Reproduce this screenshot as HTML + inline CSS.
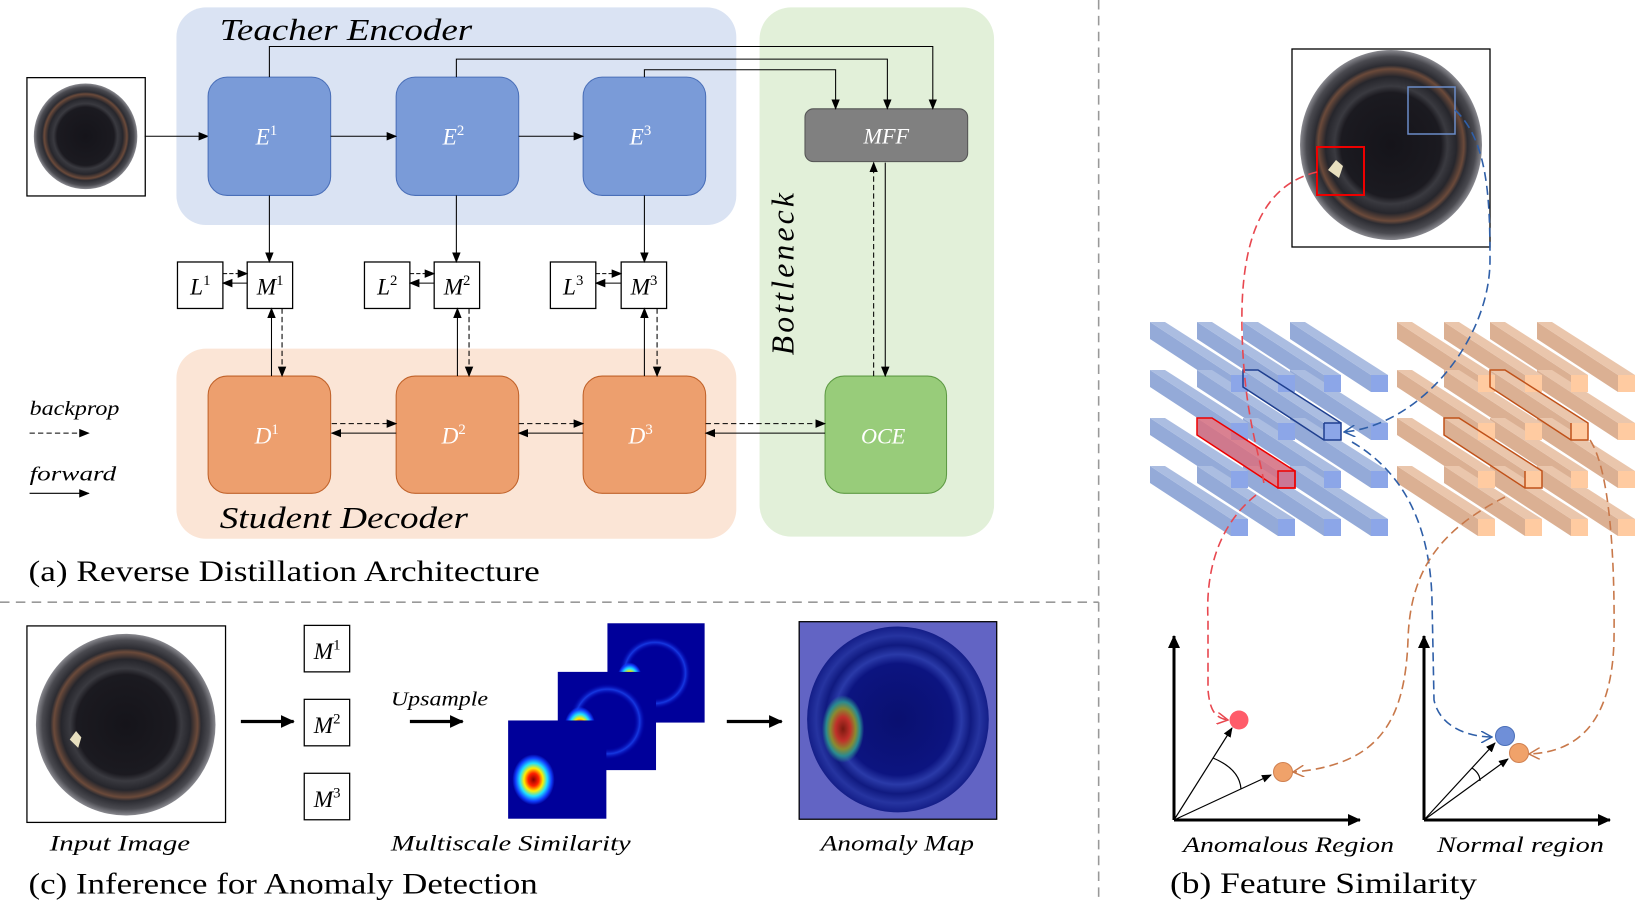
<!DOCTYPE html>
<html><head><meta charset="utf-8"><style>
html,body{margin:0;padding:0;background:#fff;width:1648px;height:901px;overflow:hidden}
svg{display:block}
text{font-family:"Liberation Serif",serif}
.it{font-style:italic}
.n{font-style:normal}
</style></head><body>
<svg width="1648" height="901" viewBox="0 0 1648 901" xmlns="http://www.w3.org/2000/svg">
<defs>
<marker id="ah" markerWidth="10" markerHeight="10" refX="9" refY="5" orient="auto" markerUnits="userSpaceOnUse"><path d="M0,1 L10,5 L0,9 z" fill="#000"/></marker>
<marker id="ahb" markerWidth="14" markerHeight="14" refX="12" refY="7" orient="auto" markerUnits="userSpaceOnUse"><path d="M0,1 L13,7 L0,13 z" fill="#000"/></marker>
<marker id="oR" markerWidth="12" markerHeight="12" refX="11" refY="6" orient="auto" markerUnits="userSpaceOnUse"><path d="M0,0 L11,6 L0,12" fill="none" stroke="#e8474f" stroke-width="1.5"/></marker>
<marker id="oB" markerWidth="12" markerHeight="12" refX="11" refY="6" orient="auto" markerUnits="userSpaceOnUse"><path d="M0,0 L11,6 L0,12" fill="none" stroke="#2f5fa8" stroke-width="1.5"/></marker>
<marker id="oO" markerWidth="12" markerHeight="12" refX="11" refY="6" orient="auto" markerUnits="userSpaceOnUse"><path d="M0,0 L11,6 L0,12" fill="none" stroke="#c8784a" stroke-width="1.5"/></marker>
<radialGradient id="eye" cx="50%" cy="50%" r="50%">
<stop offset="0" stop-color="#15141a"/><stop offset="0.55" stop-color="#1b1a20"/><stop offset="0.62" stop-color="#3a3a40"/><stop offset="0.72" stop-color="#26262c"/><stop offset="0.8" stop-color="#6b4a3a"/><stop offset="0.84" stop-color="#2c2c32"/><stop offset="0.93" stop-color="#4a4a50"/><stop offset="1" stop-color="#8a8a90"/></radialGradient>
<radialGradient id="hot" cx="50%" cy="50%" r="50%">
<stop offset="0" stop-color="#8a0000"/><stop offset="0.25" stop-color="#ff2000"/><stop offset="0.45" stop-color="#ffee00"/><stop offset="0.65" stop-color="#20e0ff"/><stop offset="0.85" stop-color="#1040ff"/><stop offset="1" stop-color="#1040ff" stop-opacity="0"/></radialGradient>
<radialGradient id="ring" cx="50%" cy="50%" r="50%">
<stop offset="0" stop-color="#0000b0" stop-opacity="0"/><stop offset="0.7" stop-color="#0000b0" stop-opacity="0"/><stop offset="0.85" stop-color="#2050ff" stop-opacity="0.7"/><stop offset="1" stop-color="#0000b0" stop-opacity="0"/></radialGradient>
<radialGradient id="amap" cx="50%" cy="50%" r="50%">
<stop offset="0" stop-color="#0a1070"/><stop offset="0.6" stop-color="#0c1480"/><stop offset="0.7" stop-color="#2a3aa8"/><stop offset="0.8" stop-color="#101a80"/><stop offset="0.9" stop-color="#2634a0"/><stop offset="1" stop-color="#141e88"/></radialGradient>
<radialGradient id="hot2" cx="50%" cy="50%" r="50%">
<stop offset="0" stop-color="#7a1a10"/><stop offset="0.35" stop-color="#c0302a"/><stop offset="0.6" stop-color="#8a8a30"/><stop offset="0.8" stop-color="#2a8a90"/><stop offset="1" stop-color="#2a8a90" stop-opacity="0"/></radialGradient>
</defs>

<g transform="scale(1.0564)">
<rect x="167" y="7" width="530" height="206" rx="28" fill="#dae3f3"/>
<rect x="167" y="330" width="530" height="180" rx="28" fill="#fbe5d6"/>
<rect x="719" y="7" width="222" height="501" rx="30" fill="#e2f0d9"/>

<text x="208" y="38" class="it" font-size="29" textLength="239" lengthAdjust="spacingAndGlyphs">Teacher Encoder</text>
<text x="208" y="500" class="it" font-size="29" textLength="235" lengthAdjust="spacingAndGlyphs">Student Decoder</text>
<text transform="translate(751,258) rotate(-90)" text-anchor="middle" class="it" font-size="30" letter-spacing="3">Bottleneck</text>

<rect x="25.5" y="73.5" width="112" height="112" fill="#fff" stroke="#000" stroke-width="1.2"/>
<ellipse cx="81" cy="129" rx="49" ry="50" fill="url(#eye)"/>
<line x1="137" y1="129" x2="197" y2="129" stroke="#000" marker-end="url(#ah)"/>

<g fill="#7a9bd8" stroke="#4a6fb8" stroke-width="1">
<rect x="197" y="73" width="116" height="112" rx="18"/>
<rect x="375" y="73" width="116" height="112" rx="18"/>
<rect x="552" y="73" width="116" height="112" rx="18"/>
</g>
<g fill="#fff" class="it" font-size="22">
<text x="242" y="137">E<tspan class="n" font-size="14" dy="-9">1</tspan></text>
<text x="419" y="137">E<tspan class="n" font-size="14" dy="-9">2</tspan></text>
<text x="596" y="137">E<tspan class="n" font-size="14" dy="-9">3</tspan></text>
</g>
<line x1="313" y1="129" x2="375" y2="129" stroke="#000" marker-end="url(#ah)"/>
<line x1="491" y1="129" x2="552" y2="129" stroke="#000" marker-end="url(#ah)"/>

<rect x="762" y="103" width="154" height="50" rx="8" fill="#808080" stroke="#555"/>
<text x="839" y="136" fill="#fff" class="it" font-size="21" text-anchor="middle">MFF</text>
<g fill="none" stroke="#000" stroke-width="1">
<polyline points="255,73 255,44 883,44 883,103" marker-end="url(#ah)"/>
<polyline points="432,73 432,56 840,56 840,103" marker-end="url(#ah)"/>
<polyline points="610,73 610,66 791,66 791,103" marker-end="url(#ah)"/>
</g>

<rect x="781" y="356" width="115" height="111" rx="18" fill="#98cc7a" stroke="#5e9a44"/>
<text x="836" y="420" fill="#fff" class="it" font-size="21" text-anchor="middle">OCE</text>
<line x1="827" y1="356" x2="827" y2="154" stroke="#000" stroke-dasharray="5,3" marker-end="url(#ah)"/>
<line x1="838" y1="154" x2="838" y2="356" stroke="#000" marker-end="url(#ah)"/>

<g fill="#ed9f6e" stroke="#c0622a" stroke-width="1">
<rect x="197" y="356" width="116" height="111" rx="18"/>
<rect x="375" y="356" width="116" height="111" rx="18"/>
<rect x="552" y="356" width="116" height="111" rx="18"/>
</g>
<g fill="#fff" class="it" font-size="22">
<text x="241" y="420">D<tspan class="n" font-size="14" dy="-9">1</tspan></text>
<text x="418" y="420">D<tspan class="n" font-size="14" dy="-9">2</tspan></text>
<text x="595" y="420">D<tspan class="n" font-size="14" dy="-9">3</tspan></text>
</g>
<g stroke="#000" stroke-width="1">
<line x1="314" y1="401" x2="375" y2="401" stroke-dasharray="5,3" marker-end="url(#ah)"/>
<line x1="375" y1="410" x2="314" y2="410" marker-end="url(#ah)"/>
<line x1="491" y1="401" x2="552" y2="401" stroke-dasharray="5,3" marker-end="url(#ah)"/>
<line x1="552" y1="410" x2="491" y2="410" marker-end="url(#ah)"/>
<line x1="668" y1="401" x2="781" y2="401" stroke-dasharray="5,3" marker-end="url(#ah)"/>
<line x1="781" y1="410" x2="668" y2="410" marker-end="url(#ah)"/>
</g>

<g fill="#fff" stroke="#000" stroke-width="1.2">
<rect x="168" y="248" width="43" height="44"/><rect x="234" y="248" width="43" height="44"/>
<rect x="345" y="248" width="43" height="44"/><rect x="411" y="248" width="43" height="44"/>
<rect x="521" y="248" width="43" height="44"/><rect x="588" y="248" width="43" height="44"/>
</g>
<g class="it" font-size="22">
<text x="180" y="279">L<tspan class="n" font-size="14" dy="-9">1</tspan></text>
<text x="243" y="279">M<tspan class="n" font-size="14" dy="-9">1</tspan></text>
<text x="357" y="279">L<tspan class="n" font-size="14" dy="-9">2</tspan></text>
<text x="420" y="279">M<tspan class="n" font-size="14" dy="-9">2</tspan></text>
<text x="533" y="279">L<tspan class="n" font-size="14" dy="-9">3</tspan></text>
<text x="597" y="279">M<tspan class="n" font-size="14" dy="-9">3</tspan></text>
</g>
<g stroke="#000" stroke-width="1">
<line x1="255" y1="185" x2="255" y2="248" marker-end="url(#ah)"/>
<line x1="432" y1="185" x2="432" y2="248" marker-end="url(#ah)"/>
<line x1="610" y1="185" x2="610" y2="248" marker-end="url(#ah)"/>
<line x1="211" y1="259" x2="234" y2="259" stroke-dasharray="4,2" marker-end="url(#ah)"/>
<line x1="234" y1="268" x2="211" y2="268" marker-end="url(#ah)"/>
<line x1="388" y1="259" x2="411" y2="259" stroke-dasharray="4,2" marker-end="url(#ah)"/>
<line x1="411" y1="268" x2="388" y2="268" marker-end="url(#ah)"/>
<line x1="564" y1="259" x2="588" y2="259" stroke-dasharray="4,2" marker-end="url(#ah)"/>
<line x1="588" y1="268" x2="564" y2="268" marker-end="url(#ah)"/>
<line x1="257" y1="356" x2="257" y2="292" marker-end="url(#ah)"/>
<line x1="267" y1="292" x2="267" y2="356" stroke-dasharray="5,3" marker-end="url(#ah)"/>
<line x1="433" y1="356" x2="433" y2="292" marker-end="url(#ah)"/>
<line x1="444" y1="292" x2="444" y2="356" stroke-dasharray="5,3" marker-end="url(#ah)"/>
<line x1="610" y1="356" x2="610" y2="292" marker-end="url(#ah)"/>
<line x1="622" y1="292" x2="622" y2="356" stroke-dasharray="5,3" marker-end="url(#ah)"/>
</g>

<text x="28" y="393" class="it" font-size="19" textLength="85" lengthAdjust="spacingAndGlyphs">backprop</text>
<line x1="28" y1="410" x2="84" y2="410" stroke="#000" stroke-dasharray="5,3" marker-end="url(#ah)"/>
<text x="28" y="455" class="it" font-size="19" textLength="82" lengthAdjust="spacingAndGlyphs">forward</text>
<line x1="28" y1="467" x2="84" y2="467" stroke="#000" marker-end="url(#ah)"/>

<text x="27" y="550" font-size="28" textLength="484" lengthAdjust="spacingAndGlyphs">(a) Reverse Distillation Architecture</text>

<line x1="1040" y1="0" x2="1040" y2="853" stroke="#999" stroke-width="1.5" stroke-dasharray="9,6"/>
<line x1="0" y1="570" x2="1040" y2="570" stroke="#999" stroke-width="1.5" stroke-dasharray="9,6"/>

<rect x="25.5" y="592.5" width="188" height="186" fill="#fff" stroke="#000" stroke-width="1.2"/>
<ellipse cx="119" cy="686" rx="85" ry="86" fill="url(#eye)"/>
<path d="M66,700 l6,-8 l5,6 l-3,10 z" fill="#e8e0c0"/>
<line x1="228" y1="683" x2="278" y2="683" stroke="#000" stroke-width="3" marker-end="url(#ahb)"/>
<g fill="#fff" stroke="#000" stroke-width="1.2">
<rect x="288" y="592" width="43" height="44"/><rect x="288" y="662" width="43" height="44"/><rect x="288" y="732" width="43" height="44"/>
</g>
<g class="it" font-size="22">
<text x="297" y="624">M<tspan class="n" font-size="14" dy="-9">1</tspan></text>
<text x="297" y="694">M<tspan class="n" font-size="14" dy="-9">2</tspan></text>
<text x="297" y="764">M<tspan class="n" font-size="14" dy="-9">3</tspan></text>
</g>
<text x="370" y="668" class="it" font-size="19" textLength="92" lengthAdjust="spacingAndGlyphs">Upsample</text>
<line x1="388" y1="683" x2="438" y2="683" stroke="#000" stroke-width="3" marker-end="url(#ahb)"/>

<rect x="575" y="590" width="92" height="94" fill="#00009a"/>
<ellipse cx="620" cy="637" rx="34" ry="34" fill="url(#ring)"/>
<ellipse cx="596" cy="643" rx="12" ry="16" fill="url(#hot)"/>
<rect x="528" y="636" width="93" height="93" fill="#00009a"/>
<ellipse cx="575" cy="683" rx="36" ry="36" fill="url(#ring)"/>
<ellipse cx="549" cy="689" rx="15" ry="20" fill="url(#hot)"/>
<rect x="481" y="682" width="93" height="93" fill="#00009a"/>
<ellipse cx="505" cy="738" rx="20" ry="24" fill="url(#hot)"/>
<line x1="688" y1="683" x2="740" y2="683" stroke="#000" stroke-width="3" marker-end="url(#ahb)"/>
<rect x="756.5" y="588.5" width="187" height="187" fill="#6264c4" stroke="#000" stroke-width="1.2"/>
<ellipse cx="850" cy="681" rx="86" ry="88" fill="url(#amap)"/>
<ellipse cx="798" cy="690" rx="20" ry="32" fill="url(#hot2)"/>

<g class="it" font-size="21">
<text x="47" y="805" textLength="133" lengthAdjust="spacingAndGlyphs">Input Image</text>
<text x="370" y="805" textLength="227" lengthAdjust="spacingAndGlyphs">Multiscale Similarity</text>
<text x="777" y="805" textLength="145" lengthAdjust="spacingAndGlyphs">Anomaly Map</text>
</g>
<text x="27" y="846" font-size="28" textLength="482" lengthAdjust="spacingAndGlyphs">(c) Inference for Anomaly Detection</text>
</g>

<rect x="1292" y="49" width="198" height="198" fill="#fff" stroke="#000" stroke-width="1.3"/>
<ellipse cx="1391" cy="145" rx="91" ry="95" fill="url(#eye)"/>
<path d="M1328,170 l8,-10 l7,6 l-4,12 z" fill="#e8e0c0"/>
<rect x="1317" y="147" width="47" height="48" fill="none" stroke="#e00" stroke-width="2"/>
<rect x="1408" y="87" width="47" height="47" fill="none" stroke="#6b8cc8" stroke-width="1.5"/>

<g opacity="0.65">
<g fill="#5b7ec4">
<path d="M1150,322 l81,53 v17 l-81,-53z M1197,322 l81,53 v17 l-81,-53z M1243,322 l81,53 v17 l-81,-53z M1290,322 l81,53 v17 l-81,-53z
M1150,370 l81,53 v17 l-81,-53z M1197,370 l81,53 v17 l-81,-53z M1243,370 l81,53 v17 l-81,-53z M1290,370 l81,53 v17 l-81,-53z
M1150,418 l81,53 v17 l-81,-53z M1197,418 l81,53 v17 l-81,-53z M1243,418 l81,53 v17 l-81,-53z M1290,418 l81,53 v17 l-81,-53z
M1150,466 l81,53 v17 l-81,-53z M1197,466 l81,53 v17 l-81,-53z M1243,466 l81,53 v17 l-81,-53z M1290,466 l81,53 v17 l-81,-53z"/>
</g>
<g fill="#7f9ad2">
<path d="M1150,322 h15 l83,53 h-17z M1197,322 h15 l83,53 h-17z M1243,322 h15 l83,53 h-17z M1290,322 h15 l83,53 h-17z
M1150,370 h15 l83,53 h-17z M1197,370 h15 l83,53 h-17z M1243,370 h15 l83,53 h-17z M1290,370 h15 l83,53 h-17z
M1150,418 h15 l83,53 h-17z M1197,418 h15 l83,53 h-17z M1243,418 h15 l83,53 h-17z M1290,418 h15 l83,53 h-17z
M1150,466 h15 l83,53 h-17z M1197,466 h15 l83,53 h-17z M1243,466 h15 l83,53 h-17z M1290,466 h15 l83,53 h-17z"/>
</g>
<g fill="#4f78dc">
<path d="M1231,375h17v17h-17z M1278,375h17v17h-17z M1324,375h17v17h-17z M1371,375h17v17h-17z
M1231,423h17v17h-17z M1278,423h17v17h-17z M1324,423h17v17h-17z M1371,423h17v17h-17z
M1231,471h17v17h-17z M1278,471h17v17h-17z M1324,471h17v17h-17z M1371,471h17v17h-17z
M1231,519h17v17h-17z M1278,519h17v17h-17z M1324,519h17v17h-17z M1371,519h17v17h-17z"/>
</g>
</g>
<g opacity="0.65" transform="translate(247,0)">
<g fill="#c8875a">
<path d="M1150,322 l81,53 v17 l-81,-53z M1197,322 l81,53 v17 l-81,-53z M1243,322 l81,53 v17 l-81,-53z M1290,322 l81,53 v17 l-81,-53z
M1150,370 l81,53 v17 l-81,-53z M1197,370 l81,53 v17 l-81,-53z M1243,370 l81,53 v17 l-81,-53z M1290,370 l81,53 v17 l-81,-53z
M1150,418 l81,53 v17 l-81,-53z M1197,418 l81,53 v17 l-81,-53z M1243,418 l81,53 v17 l-81,-53z M1290,418 l81,53 v17 l-81,-53z
M1150,466 l81,53 v17 l-81,-53z M1197,466 l81,53 v17 l-81,-53z M1243,466 l81,53 v17 l-81,-53z M1290,466 l81,53 v17 l-81,-53z"/>
</g>
<g fill="#e0a880">
<path d="M1150,322 h15 l83,53 h-17z M1197,322 h15 l83,53 h-17z M1243,322 h15 l83,53 h-17z M1290,322 h15 l83,53 h-17z
M1150,370 h15 l83,53 h-17z M1197,370 h15 l83,53 h-17z M1243,370 h15 l83,53 h-17z M1290,370 h15 l83,53 h-17z
M1150,418 h15 l83,53 h-17z M1197,418 h15 l83,53 h-17z M1243,418 h15 l83,53 h-17z M1290,418 h15 l83,53 h-17z
M1150,466 h15 l83,53 h-17z M1197,466 h15 l83,53 h-17z M1243,466 h15 l83,53 h-17z M1290,466 h15 l83,53 h-17z"/>
</g>
<g fill="#ffb070">
<path d="M1231,375h17v17h-17z M1278,375h17v17h-17z M1324,375h17v17h-17z M1371,375h17v17h-17z
M1231,423h17v17h-17z M1278,423h17v17h-17z M1324,423h17v17h-17z M1371,423h17v17h-17z
M1231,471h17v17h-17z M1278,471h17v17h-17z M1324,471h17v17h-17z M1371,471h17v17h-17z
M1231,519h17v17h-17z M1278,519h17v17h-17z M1324,519h17v17h-17z M1371,519h17v17h-17z"/>
</g>
</g>
<g fill="none" stroke="#1f3f8f" stroke-width="1.5">
<path d="M1243,370 h15 l83,53 v17 h-17 l-81,-53z M1324,423 h17 v17 M1324,423 v17"/>
</g>
<g fill="#ff5050" fill-opacity="0.55" stroke="#e00" stroke-width="1.5">
<path d="M1197,418 h15 l83,53 v17 h-17 l-81,-53z"/>
<path d="M1278,471 h17 v17 h-17z" fill="none"/>
</g>
<g fill="none" stroke="#c0521a" stroke-width="1.5">
<path d="M1490,370 h15 l83,53 v17 h-17 l-81,-53z M1571,423 v17"/>
<path d="M1444,418 h15 l83,53 v17 h-17 l-81,-53z M1525,471 v17"/>
</g>

<g fill="none" stroke-width="1.6" stroke-dasharray="9,5">
<path d="M1317,172 C1262,185 1240,240 1242,330 C1244,420 1262,460 1264,485 M1256,495 C1225,520 1205,560 1208,620 L1208,690 C1210,712 1216,718 1228,720" stroke="#e8474f" marker-end="url(#oR)"/>
<path d="M1455,110 C1488,140 1490,200 1490,260 C1490,340 1420,425 1344,432" stroke="#2f5fa8" marker-end="url(#oB)"/>
<path d="M1352,442 C1400,470 1430,520 1432,600 L1434,700 C1440,728 1470,737 1492,737" stroke="#2f5fa8" marker-end="url(#oB)"/>
<path d="M1505,497 C1440,530 1410,570 1408,640 C1405,720 1380,765 1293,772" stroke="#c8784a" marker-end="url(#oO)"/>
<path d="M1590,440 C1610,470 1615,560 1614,640 C1612,720 1580,752 1529,754" stroke="#c8784a" marker-end="url(#oO)"/>
</g>

<g stroke="#000" stroke-width="3">
<line x1="1174" y1="820" x2="1174" y2="636" marker-end="url(#ahb)"/>
<line x1="1174" y1="820" x2="1360" y2="820" marker-end="url(#ahb)"/>
<line x1="1424" y1="820" x2="1424" y2="636" marker-end="url(#ahb)"/>
<line x1="1424" y1="820" x2="1610" y2="820" marker-end="url(#ahb)"/>
</g>
<g stroke="#000" stroke-width="1.2" fill="none">
<line x1="1174" y1="820" x2="1232" y2="728" marker-end="url(#ah)"/>
<line x1="1174" y1="820" x2="1271" y2="775" marker-end="url(#ah)"/>
<path d="M1213,758 C1230,765 1240,775 1241,789"/>
<line x1="1424" y1="820" x2="1495" y2="743" marker-end="url(#ah)"/>
<line x1="1424" y1="820" x2="1508" y2="759" marker-end="url(#ah)"/>
<path d="M1472,768 C1478,772 1480,777 1480,781"/>
</g>
<circle cx="1239" cy="720" r="9.5" fill="#ff5c6a"/>
<circle cx="1283" cy="772" r="9.5" fill="#f0a26a" stroke="#d08050"/>
<circle cx="1505" cy="736" r="9.5" fill="#6f8fd8" stroke="#4a6fb8"/>
<circle cx="1519" cy="753" r="9.5" fill="#f0a26a" stroke="#d08050"/>

<g class="it" font-size="22">
<text x="1183" y="852" textLength="211" lengthAdjust="spacingAndGlyphs">Anomalous Region</text>
<text x="1437" y="852" textLength="167" lengthAdjust="spacingAndGlyphs">Normal region</text>
</g>
<text x="1170" y="893" font-size="30" textLength="307" lengthAdjust="spacingAndGlyphs">(b) Feature Similarity</text>
</svg>
</body></html>
